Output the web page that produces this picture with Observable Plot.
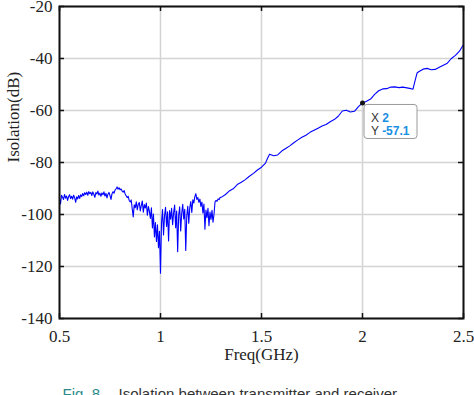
<!DOCTYPE html>
<html>
<head>
<meta charset="utf-8">
<script src="https://cdn.jsdelivr.net/npm/d3@7"></script>
<script src="https://cdn.jsdelivr.net/npm/@observablehq/plot@0.6"></script>
<style>
  html, body { margin: 0; padding: 0; background: #fff; }
</style>
</head>
<body>
<div id="chart"></div>
<script>
// ---- data ----
const xTicks = [0.5, 1, 1.5, 2, 2.5];
const yTicks = [-140, -120, -100, -80, -60, -40, -20];

// noisy low-frequency part: 0.500 .. 1.300 GHz sampled every 0.005 GHz
const noisyStart = 0.5;
const noisyStep = 0.005;
const noisyDb = [
  -93.8,-95.9,-92.6,-93.4,-94.2,-92.3,-93.7,-92.9,-94.6,-93.1,
  -92.4,-93.9,-93.0,-94.1,-92.6,-93.5,-95.3,-93.2,-94.0,-92.7,
  -93.8,-92.4,-93.1,-91.9,-92.8,-91.6,-92.3,-91.4,-92.6,-91.2,
  -92.0,-91.5,-92.7,-91.3,-92.2,-93.4,-91.6,-92.1,-91.0,-92.5,
  -91.8,-93.0,-91.7,-92.4,-91.3,-92.9,-91.9,-93.6,-92.2,-91.5,
  -92.7,-94.2,-92.0,-91.2,-91.8,-90.6,-90.1,-89.4,-90.3,-89.7,
  -90.5,-90.2,-91.0,-91.4,-90.8,-92.1,-92.8,-93.5,-93.0,-94.6,
  -95.2,-94.4,-97.8,-100.9,-96.3,-97.4,-95.1,-98.2,-96.0,-95.4,
  -98.6,-96.5,-94.8,-99.1,-96.2,-97.5,-95.6,-100.3,-96.9,-98.8,
  -101.5,-97.4,-105.2,-99.8,-108.6,-103.1,-110.4,-104.0,-112.8,-106.5,
  -122.6,-103.2,-98.1,-107.9,-100.4,-97.2,-104.6,-99.0,-110.2,-98.5,
  -101.8,-97.6,-103.9,-99.3,-96.4,-105.1,-98.7,-114.3,-100.2,-97.0,
  -106.3,-99.5,-96.1,-101.7,-98.0,-113.8,-100.6,-96.8,-103.4,-97.3,
  -95.0,-99.2,-94.3,-95.6,-93.1,-92.0,-94.2,-93.5,-95.3,-94.1,
  -96.9,-95.2,-99.4,-96.0,-105.7,-98.3,-101.2,-97.6,-104.3,-99.1,
  -101.9,-98.4,-103.0,-99.8,-95.1,-94.6,-94.9,-94.0,-94.3,-93.5,
  -93.4
];

// smoother high-frequency part
const smoothFreq = [1.32,1.34,1.36,1.38,1.40,1.42,1.44,1.46,1.48,1.50,1.52,1.53,1.54,
  1.56,1.58,1.60,1.62,1.64,1.66,1.68,1.70,1.72,1.74,1.76,1.78,1.80,1.82,1.84,1.86,1.88,
  1.90,1.92,1.94,1.96,1.98,2.00,2.02,2.04,2.06,2.08,2.10,2.12,2.14,2.16,2.18,2.20,2.22,2.24,
  2.25,2.26,2.27,2.28,2.30,2.32,2.34,2.36,2.38,2.40,2.42,2.44,2.46,2.48,2.50];
const smoothDb = [-92.4,-91.0,-90.1,-88.5,-87.6,-86.6,-85.3,-84.2,-82.9,-81.8,-80.2,-78.4,-76.8,
  -77.4,-77.1,-75.6,-74.6,-73.6,-72.4,-71.3,-70.3,-69.5,-68.4,-67.6,-66.8,-66.0,-65.4,-64.3,-63.5,-62.2,
  -60.2,-59.9,-60.6,-60.3,-58.5,-57.1,-56.4,-55.6,-53.8,-52.4,-51.7,-51.6,-51.0,-50.9,-51.2,-51.0,-51.3,-51.6,
  -51.8,-48.6,-45.6,-45.0,-44.1,-43.8,-44.3,-44.2,-43.4,-42.6,-41.8,-40.0,-38.8,-37.2,-34.6];

const marker = {f: 2, db: -57.1};
const xLabel = "Freq(GHz)";
const yLabel = "Isolation(dB)";
const captionFig = "Fig. 8.";
const captionText = "Isolation between transmitter and receiver";

// ---- build table ----
const data = noisyDb.map((v, i) => ({f: +(noisyStart + i * noisyStep).toFixed(3), db: v}))
  .concat(smoothFreq.map((f, i) => ({f, db: smoothDb[i]})));

const W = 474, H = 395, mL = 59, mR = 11, mT = 6, mB = 77;
const pw = W - mL - mR, ph = H - mT - mB;
const tk = 5;

const plot = Plot.plot({
  width: W, height: H,
  marginLeft: mL, marginRight: mR, marginTop: mT, marginBottom: mB,
  style: {fontFamily: "'Liberation Serif', 'Times New Roman', serif", background: "#fff", color: "#222"},
  x: {domain: [0.5, 2.5]},
  y: {domain: [-140, -20]},
  marks: [
    Plot.gridX(xTicks, {stroke: "#d4d4d4", strokeOpacity: 1, strokeWidth: 1.5}),
    Plot.gridY(yTicks, {stroke: "#d4d4d4", strokeOpacity: 1, strokeWidth: 1.5}),
    Plot.line(data, {x: "f", y: "db", stroke: "#0000ff", strokeWidth: 1.1}),
    // inward ticks
    Plot.ruleY(yTicks, {y: d => d, insetRight: pw - tk, stroke: "#111", strokeWidth: 1.5}),
    Plot.ruleY(yTicks, {y: d => d, insetLeft: pw - tk, stroke: "#111", strokeWidth: 1.5}),
    Plot.ruleX(xTicks, {x: d => d, insetTop: ph - tk, stroke: "#111", strokeWidth: 1.5}),
    Plot.ruleX(xTicks, {x: d => d, insetBottom: ph - tk, stroke: "#111", strokeWidth: 1.5}),
    Plot.frame({stroke: "#111", strokeWidth: 2}),
    Plot.axisY(yTicks, {tickSize: 0, tickPadding: 7, tickFormat: d => String(d), fontSize: 17, label: null}),
    Plot.axisX(xTicks, {tickSize: 0, tickPadding: 11, tickFormat: d => String(d), fontSize: 17, label: null}),
    Plot.text([xLabel], {frameAnchor: "bottom", dy: 41, fontSize: 17, fill: "#222"}),
    Plot.text([yLabel], {frameAnchor: "left", dx: -46, rotate: -90, fontSize: 17, fill: "#222"}),
    Plot.text([captionFig], {frameAnchor: "bottom-left", dx: 3, dy: 70, textAnchor: "start", lineAnchor: "top",
      fontSize: 15, fill: "#2a8a8a", fontFamily: "'Liberation Sans', Arial, sans-serif"}),
    Plot.text([captionText], {frameAnchor: "bottom-left", dx: 59, dy: 70, textAnchor: "start", lineAnchor: "top",
      fontSize: 15, fill: "#333", fontFamily: "'Liberation Sans', Arial, sans-serif"}),
    Plot.dot([marker], {x: "f", y: "db", r: 2.5, fill: "#111", stroke: "none"})
  ]
});

// data tip box anchored at the marker through the plot's own scales
const sx = plot.scale("x"), sy = plot.scale("y");
const px = sx.apply(marker.f), py = sy.apply(marker.db);
const g = d3.select(plot).append("g")
  .attr("font-family", "'Liberation Sans', Arial, sans-serif")
  .attr("font-size", 12)
  .attr("text-anchor", "start");
g.append("rect").attr("x", px + 2).attr("y", py + 2).attr("width", 53).attr("height", 34).attr("rx", 3)
  .attr("fill", "#fff").attr("stroke", "#9a9a9a").attr("stroke-width", 1);
const t1 = g.append("text").attr("x", px + 9).attr("y", py + 20).attr("text-anchor", "start");
t1.append("tspan").attr("fill", "#333").text("X ");
t1.append("tspan").attr("fill", "#1a8fe3").attr("font-weight", "bold").text(String(marker.f));
const t2 = g.append("text").attr("x", px + 9).attr("y", py + 33).attr("text-anchor", "start");
t2.append("tspan").attr("fill", "#333").text("Y ");
t2.append("tspan").attr("fill", "#1a8fe3").attr("font-weight", "bold").text(String(marker.db));

document.getElementById("chart").appendChild(plot);
</script>
</body>
</html>
